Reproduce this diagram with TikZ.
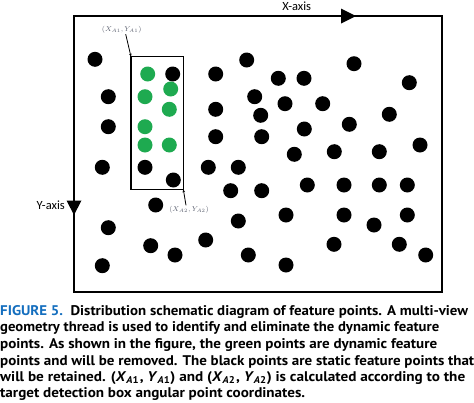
\documentclass[tikz,border=0pt]{standalone}
\usepackage{fontspec}
\setmainfont{Liberation Serif}
\newfontfamily\capfont{PT Sans}
\newfontfamily\axfont{Carlito}
\usetikzlibrary{arrows.meta}
\definecolor{dotgreen}{RGB}{30,170,80}
\definecolor{figblue}{RGB}{20,110,190}
\definecolor{lblgray}{RGB}{90,95,110}
\newcommand\fitline[2]{\resizebox{#1pt}{\height}{#2}}
\newcommand\capxy[2]{(\textit{X}\textsubscript{\textit{A}#1}\kern0.5pt, \textit{Y}\textsubscript{\textit{A}#2})}
\tikzset{
  bdot/.style={circle,fill=black,inner sep=0pt,minimum size=15pt},
  gdot/.style={circle,fill=dotgreen,inner sep=0pt,minimum size=15pt},
  axlabel/.style={font=\axfont\fontsize{12.5}{14}\selectfont,inner sep=0pt},
  cornerlbl/.style={font=\fontsize{7.5}{9}\selectfont,text=lblgray,inner sep=0pt},
  capline/.style={anchor=west,inner sep=0pt,font=\capfont\bfseries\fontsize{14}{16}\selectfont},
  frameline/.style={line width=1.4pt},
  boxline/.style={line width=1.1pt},
  ptr/.style={line width=0.8pt,-{Stealth[length=3pt,width=2.5pt]}}
}
\begin{document}
\begin{tikzpicture}[x=1pt,y=-1pt]
\useasboundingbox (0,0) rectangle (474,402);
% frame
\draw[frameline] (74,16) rectangle (442,292);
\fill (341,8.5) -- (356,16) -- (341,23.5) -- cycle;
\fill (66.5,200.5) -- (81.5,200.5) -- (74,215) -- cycle;
\node[axlabel] (xaxis) at (296.7,6.5) {X-axis};
\node[axlabel,anchor=east] (yaxis) at (65,205) {Y-axis};
% black dots
\foreach \x/\y [count=\i] in {
95/59.3, 108.3/96.7, 108.3/126.7, 172.7/74, 215.7/74, 246.7/60, 278.3/78.3, 304/78.3,
354/63.7, 409.3/82.7, 215.7/109.3, 254.7/96.7, 260.7/115.3, 285/103.7, 322.7/103.7,
389.3/114.3, 349.3/124.3, 304.3/129, 215.7/136.7, 261.7/136.7, 420/145, 294.3/154.3,
334.3/151.7, 379.3/151.7, 102.3/167.3, 145/167.3, 173.3/180, 208.3/167.3, 238.3/167.3,
230.7/190.7, 261.7/190.7, 307.3/185, 344/185, 379.3/185, 407.3/185, 155.7/205,
108.3/227.7, 238.3/221, 286/215, 344/215, 374/225, 407.3/215, 150.7/245.7, 175/255,
205.7/240, 248.3/255, 286/265, 334/244.3, 399.3/244.3, 425.7/255, 102.3/265.7}
  \node[bdot] (b\i) at (\x,\y) {};
% green dots
\foreach \x/\y [count=\i] in {147.7/74, 145/96.7, 170.7/89, 169.3/109.3, 145/126.7, 145/145, 169.3/145}
  \node[gdot] (g\i) at (\x,\y) {};
% detection box
\coordinate (boxtl) at (131,56.7);
\coordinate (boxbr) at (183.3,189.3);
\draw[boxline] (boxtl) rectangle (boxbr);
\node[cornerlbl] (lbl1) at (121.7,29.5) {$(X_{A1},Y_{A1})$};
\node[cornerlbl] (lbl2) at (189,210) {$(X_{A2},Y_{A2})$};
\draw[ptr] (lbl1.south) ++(4,1) -- (boxtl);
\draw[ptr] (lbl2.north) ++(-3,-1) -- (boxbr);
% caption
\node[capline] (c1) at (0,311.7) {\fitline{468}{\textcolor{figblue}{FIGURE 5.}\ \ Distribution schematic diagram of feature points. A multi-view}};
\node[capline] (c2) at (0,328.5) {\fitline{439}{geometry thread is used to identify and eliminate the dynamic feature}};
\node[capline] (c3) at (0,345) {\fitline{437}{points. As shown in the figure, the green points are dynamic feature}};
\node[capline] (c4) at (0,361.5) {\fitline{474}{points and will be removed. The black points are static feature points that}};
\node[capline] (c5) at (0,378) {\fitline{465}{will be retained. \capxy{1}{1} and \capxy{2}{2} is calculated according to the}};
\node[capline] (c6) at (0,394) {\fitline{305}{target detection box angular point coordinates.}};
\end{tikzpicture}
\end{document}
